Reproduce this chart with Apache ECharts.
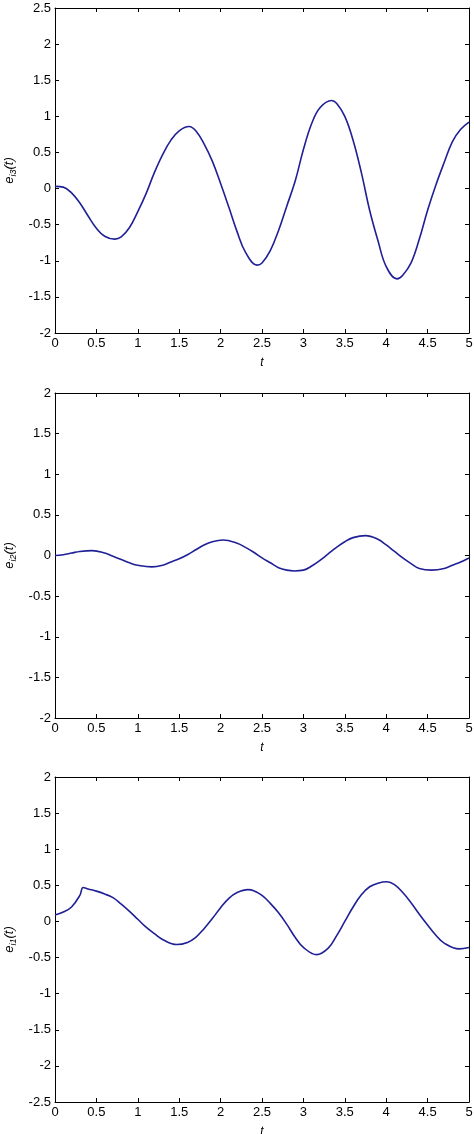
<!DOCTYPE html>
<html>
<head>
<meta charset="utf-8">
<script src="https://cdn.jsdelivr.net/npm/echarts@6/dist/echarts.min.js"></script>
<style>
html,body{margin:0;padding:0;background:#fff;}
#c{width:474px;height:1134px;}
</style>
</head>
<body>
<div id="c"></div>
<script>
// e_i3(t): sample times and values
const t3 = [0,0.1,0.2,0.3,0.4,0.5,0.6,0.72,0.8,0.9,1.0,1.1,1.2,1.3,1.4,1.5,1.62,1.7,1.8,1.9,2.0,
  2.1,2.2,2.3,2.44,2.5,2.6,2.7,2.8,2.9,3.0,3.1,3.2,3.34,3.4,3.5,3.6,3.7,3.8,3.9,4.0,
  4.13,4.2,4.3,4.4,4.5,4.6,4.7,4.8,4.9,5.0];
const e3 = [0.03,0.02,-0.06,-0.20,-0.38,-0.55,-0.66,-0.70,-0.67,-0.54,-0.32,-0.07,0.22,0.47,0.67,0.80,0.86,0.80,0.62,0.38,0.07,
  -0.26,-0.60,-0.88,-1.06,-1.03,-0.86,-0.58,-0.24,0.10,0.54,0.90,1.12,1.22,1.18,1.00,0.67,0.22,-0.30,-0.72,-1.08,
  -1.25,-1.20,-1.03,-0.70,-0.30,0.05,0.36,0.65,0.82,0.92];
// e_i2(t)
const t2 = [0,0.1,0.2,0.3,0.45,0.6,0.7,0.8,0.9,1.0,1.17,1.3,1.4,1.5,1.6,1.7,1.8,1.9,2.03,2.2,2.3,2.4,2.5,2.6,2.7,2.8,2.89,
  3.0,3.1,3.2,3.3,3.4,3.5,3.6,3.75,3.9,4.0,4.1,4.2,4.3,4.4,4.55,4.7,4.8,4.9,5.0];
const e2 = [0.00,0.01,0.03,0.05,0.06,0.03,-0.01,-0.05,-0.09,-0.12,-0.14,-0.12,-0.08,-0.04,0.01,0.07,0.13,0.17,0.19,0.15,0.10,0.04,-0.03,-0.09,-0.15,-0.18,-0.19,
  -0.18,-0.13,-0.06,0.02,0.10,0.17,0.22,0.245,0.20,0.13,0.05,-0.03,-0.10,-0.16,-0.18,-0.16,-0.12,-0.08,-0.03];
// e_i1(t)
const t1 = [0,0.1,0.2,0.3,0.34,0.4,0.5,0.6,0.7,0.8,0.9,1.0,1.1,1.2,1.3,1.47,1.6,1.7,1.8,1.9,2.0,2.1,2.2,2.33,2.4,2.5,2.6,2.7,2.8,2.9,3.0,
  3.16,3.3,3.4,3.5,3.6,3.7,3.8,3.9,4.01,4.1,4.2,4.3,4.4,4.5,4.6,4.7,4.88,5.0];
const e1 = [0.09,0.13,0.20,0.36,0.47,0.45,0.42,0.38,0.33,0.24,0.14,0.03,-0.08,-0.17,-0.25,-0.32,-0.29,-0.22,-0.10,0.04,0.19,0.32,0.40,0.44,0.425,0.36,0.25,0.12,-0.04,-0.22,-0.36,
  -0.46,-0.37,-0.20,0.00,0.20,0.37,0.48,0.53,0.55,0.51,0.40,0.26,0.10,-0.05,-0.19,-0.30,-0.38,-0.36];
const yRanges = [[-2,2.5],[-2,2],[-2.5,2]];
const yNames = ['i3','i2','i1'];
const xTickStep = 0.5, yTickStep = 0.5;

const panels = [[t3, e3], [t2, e2], [t1, e1]];
const tops = [8, 393, 777];
const font = '"Liberation Sans", Arial, sans-serif';

const grid = [], xAxis = [], yAxis = [], ser = [];
tops.forEach((top, i) => {
  grid.push({left: 55, top: top, width: 414, height: 325, containLabel: false, outerBoundsMode: 'none'});
  const lineStyle = {color: '#000', width: 1};
  xAxis.push({
    type: 'value', gridIndex: i, min: 0, max: 5, interval: xTickStep, position: 'bottom',
    axisLine: {show: true, onZero: false, lineStyle},
    axisTick: {show: true, inside: true, length: 4, lineStyle},
    axisLabel: {color: '#000', fontFamily: font, fontSize: 13, margin: 4},
    splitLine: {show: false},
    name: 't', nameLocation: 'middle', nameGap: 24,
    nameTextStyle: {color: '#000', fontFamily: font, fontSize: 12, fontStyle: 'italic'}
  });
  xAxis.push({
    type: 'value', gridIndex: i, min: 0, max: 5, interval: xTickStep, position: 'top',
    axisLine: {show: true, onZero: false, lineStyle},
    axisTick: {show: true, inside: true, length: 4, lineStyle},
    axisLabel: {show: false}, splitLine: {show: false}
  });
  yAxis.push({
    type: 'value', gridIndex: i, min: yRanges[i][0], max: yRanges[i][1], interval: yTickStep, position: 'left',
    axisLine: {show: true, onZero: false, lineStyle},
    axisTick: {show: true, inside: true, length: 4, lineStyle},
    axisLabel: {color: '#000', fontFamily: font, fontSize: 13, margin: 4},
    splitLine: {show: false},
    name: '{e|e}{s|' + yNames[i] + '}{p|(t)}', nameLocation: 'middle', nameGap: 36, nameRotate: 90,
    nameTextStyle: {
      color: '#000',
      rich: {
        e: {fontFamily: font, fontSize: 13, fontStyle: 'italic', color: '#000'},
        s: {fontFamily: font, fontSize: 9, fontStyle: 'italic', color: '#000', verticalAlign: 'bottom', padding: [7,0,0,0]},
        p: {fontFamily: font, fontSize: 13, fontStyle: 'italic', color: '#000'}
      }
    }
  });
  yAxis.push({
    type: 'value', gridIndex: i, min: yRanges[i][0], max: yRanges[i][1], interval: yTickStep, position: 'right',
    axisLine: {show: true, onZero: false, lineStyle},
    axisTick: {show: true, inside: true, length: 4, lineStyle},
    axisLabel: {show: false}, splitLine: {show: false}
  });
  const [ts, vs] = panels[i];
  ser.push({
    type: 'line', xAxisIndex: i * 2, yAxisIndex: i * 2,
    data: ts.map((t, k) => [t, vs[k]]),
    smooth: 0.4, symbol: 'none',
    lineStyle: {color: '#1f1f96', width: 1.6}
  });
});

const chart = echarts.init(document.getElementById('c'), null, {renderer: 'canvas'});
chart.setOption({animation: false, backgroundColor: '#fff', grid, xAxis, yAxis, series: ser});
</script>
</body>
</html>
